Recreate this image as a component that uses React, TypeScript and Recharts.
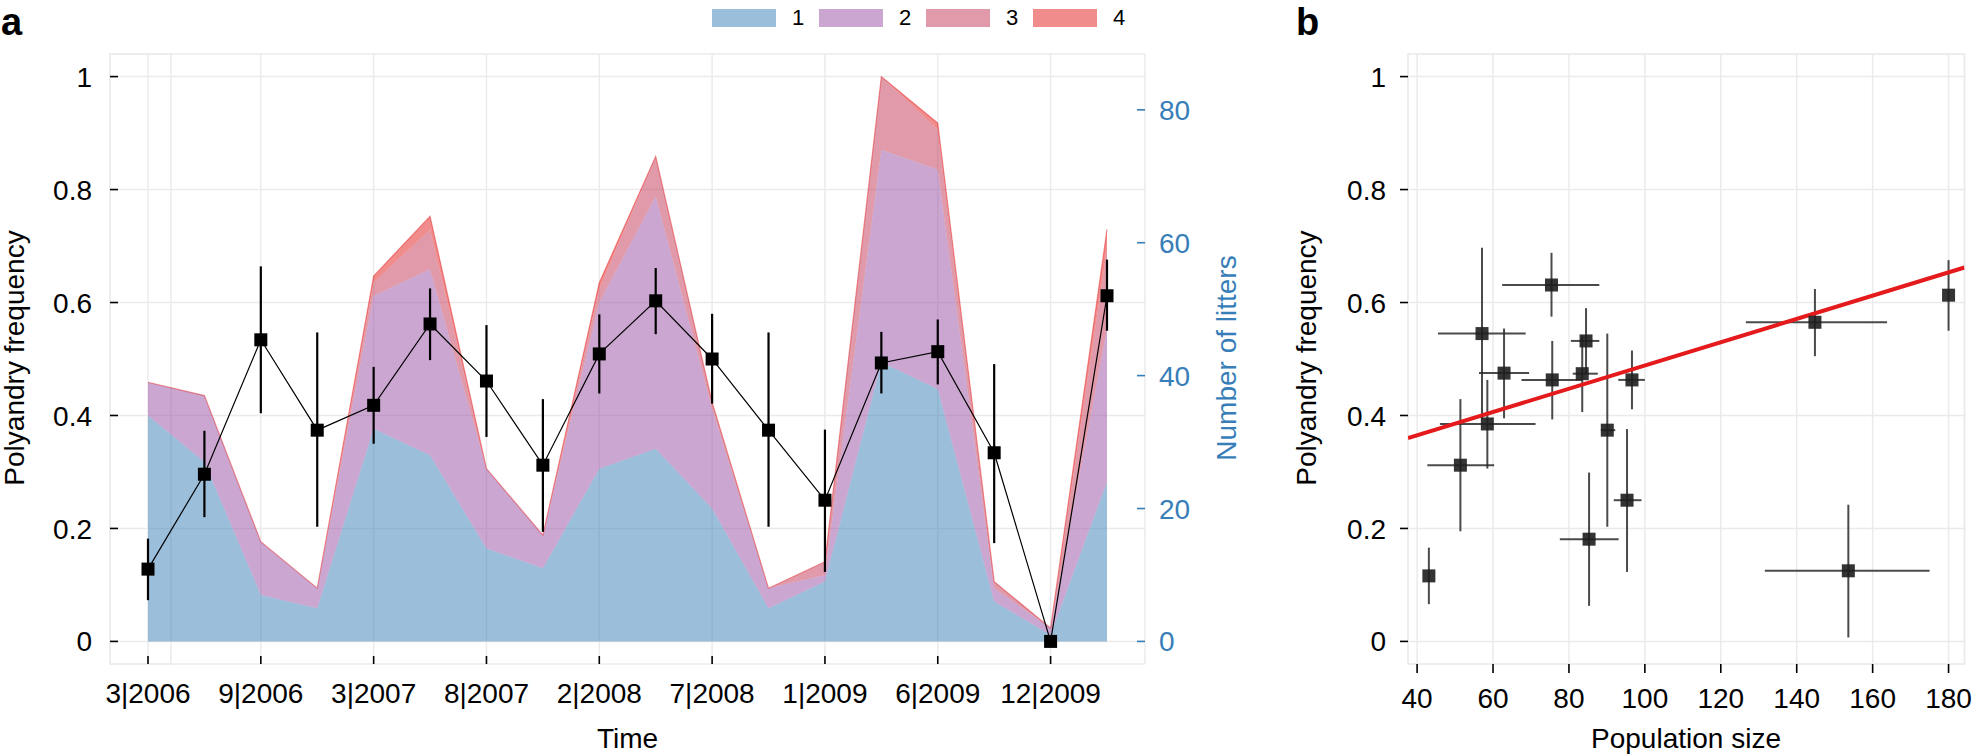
import React from 'react';
import {
  ComposedChart,
  ScatterChart,
  Area,
  Line,
  Scatter,
  ErrorBar,
  XAxis,
  YAxis,
  CartesianGrid,
  ReferenceArea,
} from 'recharts';

const FONT = '"Liberation Sans", Arial, Helvetica, sans-serif';
const GRID = '#ebebeb';
const BLUE_AXIS = '#377eb8';

// ---- panel a: polyandry frequency over time + litters per category ----
const months = [
  '3|2006', '6|2006', '9|2006', '12|2006', '3|2007', '5|2007', '8|2007', '11|2007', '2|2008',
  '4|2008', '7|2008', '10|2008', '1|2009', '3|2009', '6|2009', '9|2009', '12|2009', '3|2010',
];
const polyFreq = [0.128, 0.296, 0.534, 0.374, 0.418, 0.562, 0.461, 0.312, 0.509, 0.603, 0.5, 0.374, 0.25, 0.493, 0.513, 0.334, 0, 0.612];
const polyLow = [0.073, 0.22, 0.404, 0.203, 0.35, 0.498, 0.362, 0.194, 0.439, 0.544, 0.421, 0.203, 0.123, 0.439, 0.455, 0.174, 0, 0.55];
const polyHigh = [0.182, 0.373, 0.664, 0.547, 0.486, 0.625, 0.56, 0.429, 0.579, 0.661, 0.58, 0.547, 0.375, 0.548, 0.57, 0.491, 0, 0.676];

const litters1 = [34, 27, 7, 5, 32, 28, 14, 11, 26, 29, 20, 5, 9, 42, 38, 6, 1, 24];
const litters2 = [5, 10, 8, 3, 20, 28, 12, 5, 25, 38, 15, 3, 1, 32, 33, 2, 1, 23];
const litters3 = [0, 0, 0, 0, 2, 6, 0, 0, 2, 6, 1, 0, 2, 11, 6, 1, 0, 12];
const litters4 = [0, 0, 0, 0, 1, 2, 0, 0, 1, 0, 0, 0, 0, 0, 1, 0, 0, 3];

const litterNames = ['1', '2', '3', '4'];
const litterColors = ['#377eb8', '#984ea3', '#c13555', '#e41a1c'];
const litterSeries = [litters1, litters2, litters3, litters4];

const freqTicks = [0, 0.2, 0.4, 0.6, 0.8, 1];
const litterTicks = [0, 20, 40, 60, 80];

// ---- panel b: polyandry vs population size ----
const popSize = [43.1, 51.4, 58.5, 57.1, 62.9, 75.4, 75.6, 83.5, 84.5, 90.1, 96.6, 95.3, 85.3, 153.6, 144.8, 180];
const popSizeLow = [43.1, 42.7, 46, 45.5, 56.3, 62.4, 67.5, 81, 80.5, 88.4, 93, 91.8, 77.6, 131.6, 126.6, 180];
const popSizeHigh = [43.1, 60.3, 71.2, 68.6, 69.5, 88, 83.5, 87.6, 88, 92.2, 100, 99.1, 93.1, 175, 163.8, 180];
const popFreq = [0.116, 0.312, 0.385, 0.545, 0.475, 0.631, 0.463, 0.474, 0.532, 0.374, 0.463, 0.25, 0.181, 0.125, 0.565, 0.613];
const popFreqLow = [0.066, 0.195, 0.306, 0.393, 0.395, 0.575, 0.393, 0.406, 0.474, 0.203, 0.411, 0.123, 0.063, 0.007, 0.505, 0.55];
const popFreqHigh = [0.166, 0.429, 0.463, 0.697, 0.554, 0.688, 0.532, 0.542, 0.59, 0.545, 0.515, 0.376, 0.299, 0.242, 0.624, 0.675];

const fitX = [37.6, 184.2];
const fitY = [0.36, 0.662];
const sizeTicks = [40, 60, 80, 100, 120, 140, 160, 180];

const timeTable = months.map((m, i) => ({
  month: m,
  freq: polyFreq[i],
  err: [polyFreq[i] - polyLow[i], polyHigh[i] - polyFreq[i]],
  l1: litters1[i],
  l2: litters2[i],
  l3: litters3[i],
  l4: litters4[i],
}));

const popTable = popSize.map((s, i) => ({
  x: s,
  y: popFreq[i],
  ex: [s - popSizeLow[i], popSizeHigh[i] - s],
  ey: [popFreq[i] - popFreqLow[i], popFreqHigh[i] - popFreq[i]],
}));

const fitTable = fitX.map((x, i) => ({ x, y: fitY[i] }));

const LeftTickA = (props: any) => {
  const { x, y, payload } = props;
  return (
    <g>
      <line x1={x} x2={x + 8} y1={y} y2={y} stroke="#000" strokeWidth={1.6} />
      <text x={x - 18} y={y} dy="0.36em" textAnchor="end" fontSize={28} fontFamily={FONT} fill="#000">
        {String(payload.value)}
      </text>
    </g>
  );
};

const RightTickA = (props: any) => {
  const { x, y, payload } = props;
  return (
    <g>
      <line x1={x - 8} x2={x} y1={y} y2={y} stroke={BLUE_AXIS} strokeWidth={1.6} />
      <text x={x + 14} y={y} dy="0.36em" textAnchor="start" fontSize={28} fontFamily={FONT} fill={BLUE_AXIS}>
        {String(payload.value)}
      </text>
    </g>
  );
};

const BottomTickA = (props: any) => {
  const { x, y, payload } = props;
  return (
    <g>
      <line x1={x} x2={x} y1={y - 8} y2={y} stroke="#000" strokeWidth={1.6} />
      <text x={x} y={y + 39} textAnchor="middle" fontSize={28} fontFamily={FONT} fill="#000">
        {payload.value}
      </text>
    </g>
  );
};

const LeftTickB = (props: any) => {
  const { x, y, payload } = props;
  return (
    <g>
      <line x1={x - 8} x2={x} y1={y} y2={y} stroke="#000" strokeWidth={1.6} />
      <text x={x - 22} y={y} dy="0.36em" textAnchor="end" fontSize={28} fontFamily={FONT} fill="#000">
        {String(payload.value)}
      </text>
    </g>
  );
};

const BottomTickB = (props: any) => {
  const { x, y, payload } = props;
  return (
    <g>
      <line x1={x} x2={x} y1={y} y2={y + 9} stroke="#000" strokeWidth={1.6} />
      <text x={x} y={y + 44} textAnchor="middle" fontSize={28} fontFamily={FONT} fill="#000">
        {String(payload.value)}
      </text>
    </g>
  );
};

const SquareDot = (props: any) => {
  const { cx, cy, index } = props;
  if (cx == null || cy == null) return <g key={`d${index}`} />;
  return <rect key={`d${index}`} x={cx - 6.5} y={cy - 6.5} width={13} height={13} fill="#000" />;
};

const GreySquare = (props: any) => {
  const { cx, cy } = props;
  return <rect x={cx - 6.5} y={cy - 6.5} width={13} height={13} fill="#1e1e1e" fillOpacity={0.9} />;
};

const NoShape = () => <g />;

export default function App() {
  return (
    <div style={{ position: 'absolute', left: 0, top: 0, width: 1972, height: 756, background: '#fff', fontFamily: FONT }}>
      <div style={{ position: 'absolute', left: 0, top: 0 }}>
        <ComposedChart width={1300} height={756} data={timeTable} margin={{ top: 54, right: 0, bottom: 0, left: 0 }}>
          <CartesianGrid xAxisId="cat" yAxisId="left" stroke={GRID} strokeWidth={1.5} />
          <XAxis
            xAxisId="cat"
            dataKey="month"
            type="category"
            interval={1}
            padding={{ left: 38, right: 38 }}
            height={92}
            axisLine={false}
            tickLine={false}
            tickSize={0}
            tickMargin={0}
            tick={BottomTickA}
          />
          <XAxis xAxisId="frame" type="number" domain={[0, 1]} allowDataOverflow hide />
          <YAxis
            yAxisId="left"
            orientation="left"
            type="number"
            domain={[-0.04, 1.04]}
            ticks={freqTicks}
            allowDataOverflow
            width={110}
            axisLine={false}
            tickLine={false}
            tickSize={0}
            tickMargin={0}
            tick={LeftTickA}
          />
          <YAxis
            yAxisId="right"
            orientation="right"
            type="number"
            domain={[-3.4, 88.4]}
            ticks={litterTicks}
            allowDataOverflow
            width={155}
            axisLine={false}
            tickLine={false}
            tickSize={0}
            tickMargin={0}
            tick={RightTickA}
          />
          <ReferenceArea
            xAxisId="frame"
            yAxisId="left"
            x1={0}
            x2={1}
            y1={-0.04}
            y2={1.04}
            fill="none"
            stroke={GRID}
            strokeWidth={1.5}
            ifOverflow="visible"
          />
          {litterSeries.map((_, i) => (
            <Area
              key={litterNames[i]}
              xAxisId="cat"
              yAxisId="right"
              dataKey={`l${i + 1}`}
              name={litterNames[i]}
              stackId="litters"
              type="linear"
              fill={litterColors[i]}
              fillOpacity={0.5}
              stroke={i === 3 ? litterColors[3] : 'none'}
              strokeOpacity={0.45}
              strokeWidth={1.2}
              dot={false}
              activeDot={false}
              isAnimationActive={false}
            />
          ))}
          <Line
            xAxisId="cat"
            yAxisId="left"
            dataKey="freq"
            type="linear"
            stroke="#000"
            strokeWidth={1.2}
            dot={SquareDot}
            activeDot={false}
            legendType="none"
            isAnimationActive={false}
          >
            <ErrorBar dataKey="err" direction="y" width={0} stroke="#000" strokeWidth={2.2} />
          </Line>
        </ComposedChart>
      </div>

      <div style={{ position: 'absolute', left: 1250, top: 0 }}>
        <ScatterChart width={722} height={756} margin={{ top: 54, right: 7.5, bottom: 0, left: 0 }}>
          <CartesianGrid stroke={GRID} strokeWidth={1.5} />
          <XAxis
            type="number"
            dataKey="x"
            domain={[37.6, 184.2]}
            ticks={sizeTicks}
            allowDataOverflow
            height={92}
            axisLine={false}
            tickLine={false}
            tickSize={0}
            tickMargin={0}
            tick={BottomTickB}
          />
          <YAxis
            type="number"
            dataKey="y"
            domain={[-0.04, 1.04]}
            ticks={freqTicks}
            allowDataOverflow
            width={158}
            axisLine={false}
            tickLine={false}
            tickSize={0}
            tickMargin={0}
            tick={LeftTickB}
          />
          <ReferenceArea
            x1={37.6}
            x2={184.2}
            y1={-0.04}
            y2={1.04}
            fill="none"
            stroke={GRID}
            strokeWidth={1.5}
            ifOverflow="visible"
          />
          <Scatter
            data={fitTable}
            line={{ stroke: '#e41a1c', strokeWidth: 4 }}
            shape={NoShape}
            legendType="none"
            isAnimationActive={false}
          />
          <Scatter data={popTable} shape={GreySquare} legendType="none" isAnimationActive={false}>
            <ErrorBar dataKey="ex" direction="x" width={0} stroke="#2a2a2a" strokeOpacity={0.85} strokeWidth={2} />
            <ErrorBar dataKey="ey" direction="y" width={0} stroke="#2a2a2a" strokeOpacity={0.85} strokeWidth={2} />
          </Scatter>
        </ScatterChart>
      </div>

      {/* legend of panel a */}
      <div style={{ position: 'absolute', left: 712, top: 9, display: 'flex', height: 18 }}>
        {litterNames.map((n, i) => (
          <div key={n} style={{ display: 'flex', alignItems: 'center', width: 107 }}>
            <div style={{ width: 64, height: 18, background: litterColors[i], opacity: 0.5 }} />
            <span style={{ marginLeft: 16, fontSize: 22, lineHeight: '18px', color: '#000' }}>{n}</span>
          </div>
        ))}
      </div>

      <svg
        width={1972}
        height={756}
        style={{ position: 'absolute', left: 0, top: 0, pointerEvents: 'none' }}
        fontFamily={FONT}
      >
        <text x={1} y={35} fontSize={38} fontWeight="bold" fill="#000">a</text>
        <text x={1296} y={35} fontSize={38} fontWeight="bold" fill="#000">b</text>
        <text x={14} y={358} transform="rotate(-90 14 358)" textAnchor="middle" dominantBaseline="central" fontSize={28} fill="#000">
          Polyandry frequency
        </text>
        <text x={1226} y={358} transform="rotate(-90 1226 358)" textAnchor="middle" dominantBaseline="central" fontSize={28} fill={BLUE_AXIS}>
          Number of litters
        </text>
        <text x={1306} y={358} transform="rotate(-90 1306 358)" textAnchor="middle" dominantBaseline="central" fontSize={28} fill="#000">
          Polyandry frequency
        </text>
        <text x={627.5} y={748} textAnchor="middle" fontSize={28} fill="#000">Time</text>
        <text x={1686} y={748} textAnchor="middle" fontSize={28} fill="#000">Population size</text>
      </svg>
    </div>
  );
}
